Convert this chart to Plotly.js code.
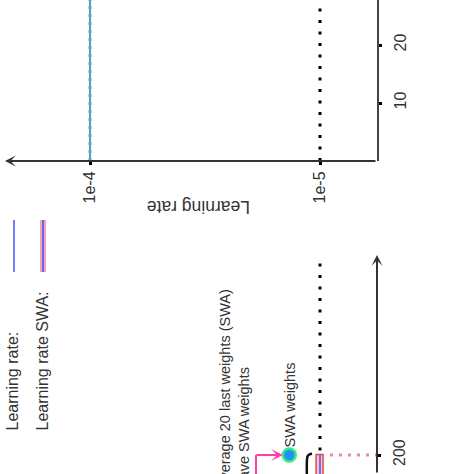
<!DOCTYPE html>
<html><head><meta charset="utf-8">
<script src="https://cdn.plot.ly/plotly-3.0.1.min.js"></script>
<style>html,body{margin:0;padding:0;background:#fff}#chart{width:474px;height:474px}</style>
</head><body><div id="chart"></div>
<script>
// ---- data ----
const lrTicks = [1e-4, 1e-5];
const lrTickText = ['1e-4', '1e-5'];
const epochTicksTop = [10, 20];
const epochTicksBottom = [200];

// top panel (constant learning rates)
const lrHigh = [1e-4, 1e-4];
const lrLow = [1e-5, 1e-5];
const epochsTop = [0, 30];

// bottom panel
const swaLR = [1e-5, 1e-5];
const swaEpochs = [170, 200];
const swaBoxLR = [1.04e-5, 9.7e-6, 9.7e-6, 1.04e-5, 1.04e-5];
const swaBoxEpochs = [170, 170, 200.6, 200.6, 170];
const lowLineEpochs = [170, 397];
const guideLR = [9.05e-6, 5.6e-6];
const guideEpochs = [200, 200];
const braceLR = [1.139e-5, 1.139e-5, 1.132e-5, 1.11e-5, 1.083e-5];
const braceEpochs = [170, 195.5, 198.8, 200.6, 201.2];
const swaPointLR = [1.36e-5];
const swaPointEpoch = [200];
const arrowLR = [1.898e-5, 1.898e-5];
const arrowEpochs = [170, 200];

const W = 474, H = 474;
const px = v => v / W, py = v => 1 - v / H;
const textCol = '#333';
const FONT = 'Liberation Sans, Arial, sans-serif';
const blue = '#6f7dff';

const traces = [
  {x: lrHigh, y: epochsTop, xaxis: 'x', yaxis: 'y', mode: 'lines', line: {color: blue, width: 2}, name: 'Learning rate'},
  {x: lrHigh, y: epochsTop, xaxis: 'x', yaxis: 'y', mode: 'lines', line: {color: '#2ecc71', width: 3, dash: '3px,5px'}, name: 'cyclic'},
  {x: lrLow, y: epochsTop, xaxis: 'x', yaxis: 'y', mode: 'lines', line: {color: '#000', width: 3, dash: '3px,8.5px'}, name: 'low'},
  {x: lrLow, y: lowLineEpochs, xaxis: 'x', yaxis: 'y2', mode: 'lines', line: {color: '#000', width: 3, dash: '3px,8.5px'}, name: 'low2'},
  {x: guideLR, y: guideEpochs, xaxis: 'x', yaxis: 'y2', mode: 'lines', line: {color: '#f08a9a', width: 3, dash: '3px,6px'}, name: 'guide'},
  {x: swaBoxLR, y: swaBoxEpochs, xaxis: 'x', yaxis: 'y2', mode: 'lines', fill: 'toself', fillcolor: '#f7c4cc', line: {color: '#e04a4a', width: 1.5}, name: 'box'},
  {x: swaLR, y: swaEpochs, xaxis: 'x', yaxis: 'y2', mode: 'lines', line: {color: '#4050ff', width: 1.5}, name: 'Learning rate SWA'},
  {x: braceLR, y: braceEpochs, xaxis: 'x', yaxis: 'y2', mode: 'lines', line: {color: '#111', width: 2.5, shape: 'spline'}, name: 'brace'},
  {x: arrowLR, y: arrowEpochs, xaxis: 'x', yaxis: 'y2', mode: 'lines', line: {color: '#ff3fa4', width: 2}, name: 'arrow'},
  {x: swaPointLR, y: swaPointEpoch, xaxis: 'x', yaxis: 'y2', mode: 'markers', marker: {size: 13, color: '#1e90ff', line: {color: '#33ee77', width: 2.5}}, name: 'SWA weights'}
];

const tickFont = {family: FONT, size: 16, color: textCol};
const layout = {
  width: W, height: H, margin: {l: 0, r: 0, t: 0, b: 0},
  paper_bgcolor: '#fff', plot_bgcolor: 'rgba(0,0,0,0)', showlegend: false,
  xaxis: {type: 'log', domain: [0, 377 / W], range: [-3.6087, -5.2478], anchor: 'y',
    showline: false, showgrid: false, zeroline: false,
    tickvals: lrTicks, ticktext: lrTickText, tickangle: -90, tickfont: tickFont,
    ticks: 'outside', ticklen: 3, tickwidth: 3, tickcolor: '#000'},
  yaxis: {domain: [py(161), 1], range: [0, 27.76], anchor: 'x', side: 'right',
    showline: true, linecolor: '#444', linewidth: 2, showgrid: false, zeroline: false,
    tickvals: epochTicksTop, tickangle: -90, tickfont: tickFont, ticklabelstandoff: 5,
    ticks: 'outside', ticklen: 3, tickwidth: 3, tickcolor: '#000'},
  yaxis2: {domain: [0, py(255)], range: [181, 400], anchor: 'x', side: 'right',
    showline: false, showgrid: false, zeroline: false,
    tickvals: epochTicksBottom, tickangle: -90, tickfont: tickFont, ticklabelstandoff: 5,
    ticks: 'outside', ticklen: 3, tickwidth: 3, tickcolor: '#000'},
  shapes: [
    {type: 'line', xref: 'paper', yref: 'paper', x0: px(14), x1: px(14), y0: py(220), y1: py(272), line: {color: blue, width: 2}},
    {type: 'line', xref: 'paper', yref: 'paper', x0: px(43), x1: px(43), y0: py(220), y1: py(272), line: {color: '#f3a3b5', width: 6}},
    {type: 'line', xref: 'paper', yref: 'paper', x0: px(43), x1: px(43), y0: py(220), y1: py(272), line: {color: '#4050ff', width: 1.5}}
  ],
  annotations: [
    // axis arrows
    {xref: 'paper', yref: 'paper', x: px(5), y: py(161), ax: 372, ay: 0, axref: 'pixel', ayref: 'pixel', text: '', showarrow: true, arrowhead: 3, arrowsize: 0.9, arrowwidth: 2, arrowcolor: '#333'},
    {xref: 'paper', yref: 'paper', x: px(377), y: py(255), ax: 0, ay: 230, text: '', showarrow: true, arrowhead: 3, arrowsize: 0.9, arrowwidth: 2, arrowcolor: '#333'},
    // pink arrow head
    {xref: 'paper', yref: 'paper', x: px(283), y: py(455), ax: -28, ay: 0, text: '', showarrow: true, arrowhead: 3, arrowsize: 1, arrowwidth: 2, arrowcolor: '#ff3fa4'},
    // texts
    {xref: 'paper', yref: 'paper', x: px(199), y: py(207), text: 'Learning rate', textangle: 180, showarrow: false, font: {family: FONT, size: 17.5, color: textCol}, xanchor: 'center', yanchor: 'middle'},
    {xref: 'paper', yref: 'paper', x: px(12), y: py(433), text: 'Learning rate:', textangle: -90, showarrow: false, font: {family: FONT, size: 16, color: textCol}, xanchor: 'center', yanchor: 'bottom'},
    {xref: 'paper', yref: 'paper', x: px(42), y: py(433), text: 'Learning rate SWA:', textangle: -90, showarrow: false, font: {family: FONT, size: 16, color: textCol}, xanchor: 'center', yanchor: 'bottom'},
    {xref: 'paper', yref: 'paper', x: px(289), y: py(450), text: 'SWA weights', textangle: -90, showarrow: false, font: {family: FONT, size: 14.5, color: textCol}, xanchor: 'center', yanchor: 'bottom'},
    {xref: 'paper', yref: 'paper', x: px(235), y: py(491), text: 'Average 20 last weights (SWA)<br>Save SWA weights', textangle: -90, align: 'left', showarrow: false, font: {family: FONT, size: 14.5, color: textCol}, xanchor: 'center', yanchor: 'bottom'}
  ]
};

Plotly.newPlot('chart', traces, layout, {staticPlot: true, displayModeBar: false});
</script>
</body></html>
